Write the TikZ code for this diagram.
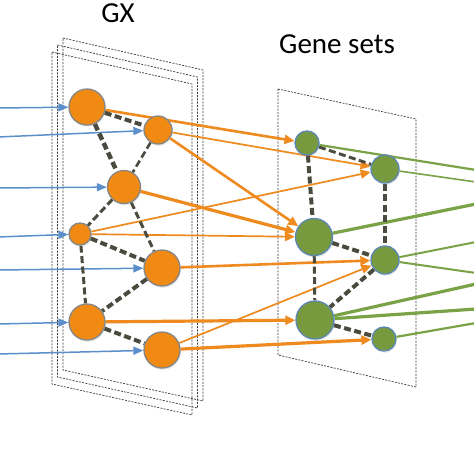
\documentclass[tikz,border=0pt]{standalone}
\usepackage{fontspec}
\setmainfont{Carlito}
\usetikzlibrary{arrows.meta,shadows}
\definecolor{ofill}{HTML}{F08A12}
\definecolor{oline}{HTML}{EE8A1E}
\definecolor{oborder}{HTML}{868686}
\definecolor{gfill}{HTML}{789A3F}
\definecolor{gborder}{HTML}{5B87B3}
\definecolor{gline}{HTML}{7AA246}
\definecolor{bline}{HTML}{5B8FCB}
\definecolor{dashc}{HTML}{4A4A3E}
\definecolor{framec}{HTML}{3A3A3A}
\pgfdeclarelayer{bg}
\pgfsetlayers{bg,main}
\begin{document}
\begin{tikzpicture}[x=1pt,y=-1pt,
  onode/.style={circle,fill=ofill,draw=oborder,line width=1.3pt,inner sep=0pt,minimum size=#1,
    drop shadow={opacity=0.18,shadow xshift=0.8pt,shadow yshift=-1.8pt}},
  gnode/.style={circle,fill=gfill,draw=gborder,line width=1.3pt,inner sep=0pt,minimum size=#1,
    drop shadow={opacity=0.18,shadow xshift=0.8pt,shadow yshift=-1.8pt}},
  oarr/.style={draw=oline,line width=#1,-{Triangle[length=10pt,width=9pt]}},
  barr/.style={draw=bline,line width=1.5pt,-{Triangle[length=10pt,width=8pt]}},
  gout/.style={draw=gline,line width=#1},
  dedge/.style={draw=dashc,line width=#1,dash pattern=on 7pt off 3.5pt},
  framebox/.style={draw=framec,line width=0.7pt,dash pattern=on 2pt off 1.3pt},
  title/.style={font=\fontsize{29}{32}\selectfont,inner sep=0pt}
]
\useasboundingbox (0,0) rectangle (474,474);

% titles
\node[title,anchor=base] (gx) at (118,22) {GX};
\node[title,anchor=base west] (gs) at (279,53) {Gene sets};

% orange nodes
\node[onode=36pt] (o1) at (87,107) {};
\node[onode=28pt] (o2) at (158,130) {};
\node[onode=33pt] (o3) at (124,187) {};
\node[onode=22pt] (o4) at (80,234) {};
\node[onode=36pt] (o5) at (162,268) {};
\node[onode=36pt] (o6) at (87,322) {};
\node[onode=36pt] (o7) at (162,350) {};

% green nodes
\node[gnode=24pt] (g1) at (307,143) {};
\node[gnode=28pt] (g2) at (385,169) {};
\node[gnode=37pt] (g3) at (314,237) {};
\node[gnode=28pt] (g4) at (385,260) {};
\node[gnode=38pt] (g5) at (315,320) {};
\node[gnode=24pt] (g6) at (384,339) {};

% free ends
\coordinate (b1) at (-2,108);
\coordinate (b2) at (-2,137);
\coordinate (b3) at (-2,188);
\coordinate (b4) at (-2,237);
\coordinate (b5) at (-2,270);
\coordinate (b6) at (-2,324);
\coordinate (b7) at (-2,354);
\coordinate (e1) at (476,170);
\coordinate (e2) at (476,182);
\coordinate (e3) at (476,204);
\coordinate (e4) at (476,242);
\coordinate (e5) at (476,273);
\coordinate (e6) at (476,284);
\coordinate (e7) at (476,309);
\coordinate (e8) at (476,323);

\begin{pgfonlayer}{bg}
\fill[white] (0,0) rectangle (474,474);
% frames
\draw[framebox] (63,38) -- (203,70) -- (203,401) -- (63,370) -- cycle;
\draw[framebox] (57.5,45) -- (197.5,77) -- (197.5,408) -- (57.5,377) -- cycle;
\draw[framebox] (52,52) -- (192,84) -- (192,415) -- (52,384) -- cycle;
\draw[framebox] (278,89) -- (416,119) -- (416,387) -- (278,355) -- cycle;

% green outputs
\draw[gout=2.2pt] (g1) -- (e1);
\draw[gout=1.6pt] (g2) -- (e2);
\draw[gout=3.2pt] (g3) -- (e3);
\draw[gout=2pt] (g4) -- (e4);
\draw[gout=2pt] (g4) -- (e5);
\draw[gout=3.2pt] (g5) -- (e6);
\draw[gout=3.2pt] (g5) -- (e7);
\draw[gout=2.2pt] (g6) -- (e8);

% orange arrows
\draw[oarr=2.6pt] (o1) -- (g1);
\draw[oarr=1.7pt] (o2) -- (g2);
\draw[oarr=2.6pt] (o2) -- (g3);
\draw[oarr=3.2pt] (o3) -- (g3);
\draw[oarr=1.7pt] (o4) -- (g2);
\draw[oarr=1.7pt] (o4) -- (g3);
\draw[oarr=2.6pt] (o5) -- (g4);
\draw[oarr=3.2pt] (o6) -- (g5);
\draw[oarr=1.7pt] (o7) -- (g4);
\draw[oarr=3.2pt] (o7) -- (g6);

% blue inputs
\draw[barr] (b1) -- (o1);
\draw[barr] (b2) -- (o2);
\draw[barr] (b3) -- (o3);
\draw[barr] (b4) -- (o4);
\draw[barr] (b5) -- (o5);
\draw[barr] (b6) -- (o6);
\draw[barr] (b7) -- (o7);

% dashed edges GX
\draw[dedge=4pt] (o1) -- (o2);
\draw[dedge=4.5pt] (o1) -- (o3);
\draw[dedge=2.6pt] (o2) -- (o3);
\draw[dedge=3pt] (o3) -- (o4);
\draw[dedge=3pt] (o3) -- (o5);
\draw[dedge=4pt] (o4) -- (o5);
\draw[dedge=3pt] (o4) -- (o6);
\draw[dedge=4pt] (o5) -- (o6);
\draw[dedge=4pt] (o6) -- (o7);

% dashed edges gene sets
\draw[dedge=3pt] (g1) -- (g2);
\draw[dedge=4pt] (g1) -- (g3);
\draw[dedge=3.5pt] (g2) -- (g4);
\draw[dedge=4pt] (g3) -- (g4);
\draw[dedge=3pt] (g3) -- (g5);
\draw[dedge=4pt] (g4) -- (g5);
\draw[dedge=4pt] (g5) -- (g6);
\end{pgfonlayer}
\end{tikzpicture}
\end{document}
